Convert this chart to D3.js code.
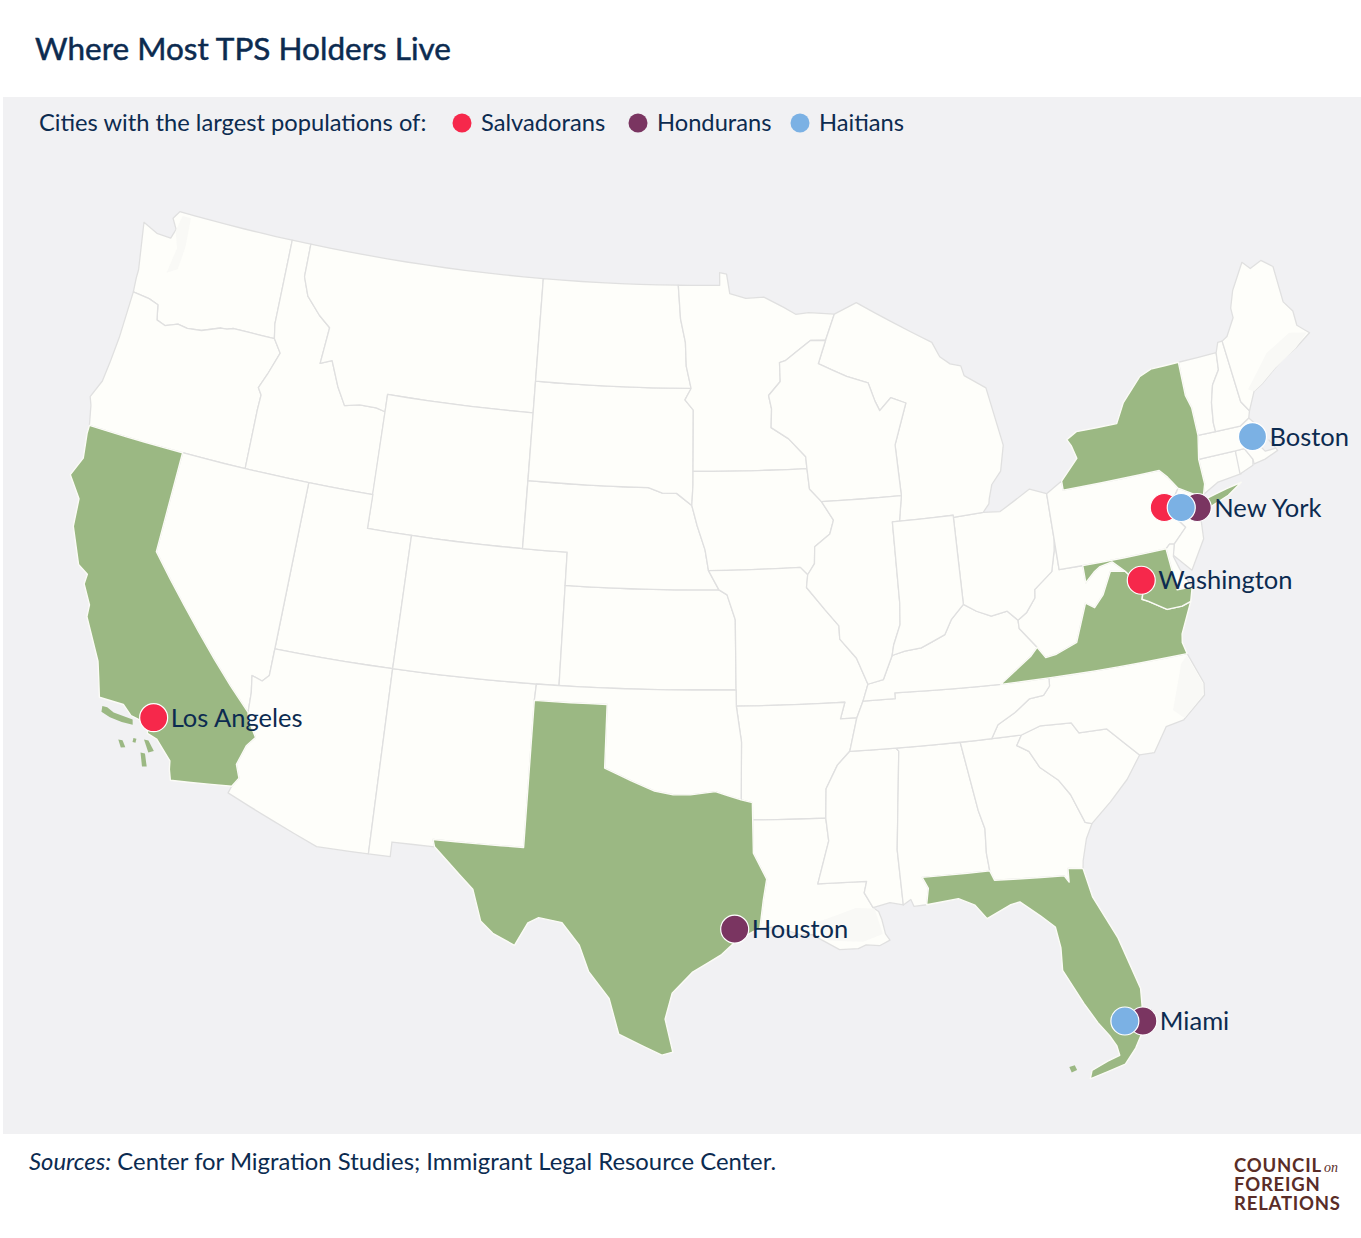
<!DOCTYPE html>
<html><head><meta charset="utf-8">
<script src="https://cdn.jsdelivr.net/npm/d3@7"></script>
<style>html,body{margin:0;padding:0;background:#fff}svg{display:block}text{font-family:Lato,sans-serif;fill:#0c2b50}</style>
</head><body><svg id="c" width="1361" height="1238"></svg>
<script>
const titleText="Where Most TPS Holders Live";
const legendLead="Cities with the largest populations of:";
const seriesNames=["Salvadorans","Hondurans","Haitians"];
const highlighted=["CA","TX","FL","NY","LI","VA","MD","CI1","CI2","CI3","CI4","CI5","KEY"];
const islands=["CI1","CI2","CI3","CI4","CI5","KEY"];
const cityNames=["Los Angeles","Washington","Boston","Houston","New York","Miami"];
const cityLon=[-118.3,-77.12,-70.88,-94.8,-74.75,-80.78];
const cityLat=[34.25,38.96,42.3,29.68,40.79,25.88];
const citySeries=[["Salvadorans"],["Salvadorans"],["Haitians"],["Hondurans"],["Salvadorans","Hondurans","Haitians"],["Hondurans","Haitians"]];
const WA=[[-123.05,49],[-117.03,49],[-117.04,46.42],[-116.92,45.99],[-118.98,46],[-119.3,45.93],[-119.6,45.92],[-120.5,45.7],[-121.2,45.65],[-121.7,45.7],[-122.3,45.55],[-122.75,45.65],[-122.9,46.1],[-123.4,46.2],[-124.25,46.26],[-124.3,46.7],[-124.3,46.95],[-124.7,48.38],[-123.9,48.17],[-123.15,48.15],[-123,48.45],[-123.3,48.75]];
const OR=[[-124.25,46.26],[-123.4,46.2],[-122.9,46.1],[-122.75,45.65],[-122.3,45.55],[-121.7,45.7],[-121.2,45.65],[-120.5,45.7],[-119.6,45.92],[-119.3,45.93],[-118.98,46],[-116.92,45.99],[-116.5,45.6],[-116.9,44.9],[-117.2,44.45],[-117,44.25],[-117.03,43.8],[-117.03,42],[-120,42],[-124.5,42],[-124.7,42.6],[-124.85,42.84],[-124.5,43.4],[-124.4,44],[-124.3,44.8]];
const ID=[[-117.03,49],[-116.05,49],[-116.05,48],[-115.7,47.45],[-114.95,46.95],[-114.35,46.65],[-114.5,45.55],[-113.95,45.7],[-113.45,44.95],[-113,44.45],[-112.3,44.55],[-111.5,44.55],[-111.05,44.48],[-111.05,42],[-114.04,42],[-117.03,42],[-117.03,43.8],[-117,44.25],[-117.2,44.45],[-116.9,44.9],[-116.5,45.6],[-116.92,45.99],[-117.04,46.42]];
const MT=[[-116.05,49],[-104.05,49],[-104.05,45],[-111.05,45],[-111.05,44.48],[-111.5,44.55],[-112.3,44.55],[-113,44.45],[-113.45,44.95],[-113.95,45.7],[-114.5,45.55],[-114.35,46.65],[-114.95,46.95],[-115.7,47.45],[-116.05,48]];
const WY=[[-111.05,45],[-104.05,45],[-104.05,41],[-111.05,41]];
const UT=[[-114.04,42],[-111.05,42],[-111.05,41],[-109.05,41],[-109.05,37],[-114.05,37]];
const NV=[[-120,42],[-114.04,42],[-114.05,36.2],[-114.3,36],[-114.75,36.1],[-114.65,35.6],[-114.63,35],[-120,39]];
const CA=[[-124.5,42],[-120,42],[-120,39],[-114.63,35],[-114.57,34.8],[-114.15,34.3],[-114.45,34],[-114.7,33.4],[-114.5,33],[-114.72,32.72],[-117.12,32.53],[-117.25,32.85],[-117.3,33.1],[-118,33.65],[-118.4,33.75],[-118.5,34.03],[-119.2,34.15],[-119.6,34.42],[-120.6,34.45],[-120.8,34.95],[-121.05,35.45],[-122.05,36.6],[-122.1,36.95],[-122.6,37.5],[-122.6,37.8],[-123.1,38],[-123.85,39],[-124,39.8],[-124.7,40.4],[-124.35,41],[-124.5,41.75]];
const CI1=[[-120.4,34.22],[-120.2,34.22],[-119.9,34.12],[-119.1,34.05],[-119.05,33.9],[-119.5,33.9],[-120,33.95],[-120.38,34.05]];
const CI2=[[-119.47,33.37],[-119.3,33.38],[-119.13,33.2],[-119.3,33.16]];
const CI3=[[-118.9,33.52],[-118.78,33.52],[-118.78,33.4],[-118.9,33.4]];
const CI4=[[-118.48,33.55],[-118.3,33.55],[-118,33.28],[-118.2,33.2]];
const CI5=[[-118.5,33.15],[-118.32,33.15],[-118.14,32.78],[-118.32,32.75]];
const AZ=[[-114.05,37],[-109.05,37],[-109.05,31.33],[-111.07,31.33],[-114.81,32.5],[-114.72,32.72],[-114.5,33],[-114.7,33.4],[-114.45,34],[-114.15,34.3],[-114.57,34.8],[-114.63,35],[-114.65,35.6],[-114.75,36.1],[-114.3,36],[-114.05,36.2]];
const NM=[[-109.05,37],[-103,37],[-103.04,36.5],[-103.06,32],[-106.62,32],[-106.53,31.78],[-108.2,31.78],[-108.2,31.33],[-109.05,31.33]];
const CO=[[-109.05,41],[-102.05,41],[-102.05,37],[-109.05,37]];
const KS=[[-102.05,40],[-95.3,40],[-94.95,39.85],[-94.61,39.1],[-94.62,37],[-102.05,37]];
const NE=[[-104.05,43],[-98.5,43],[-97.85,42.85],[-97.2,42.85],[-96.5,42.5],[-96.25,41.9],[-95.9,41.2],[-95.75,40.58],[-95.3,40],[-102.05,40],[-102.05,41],[-104.05,41]];
const SD=[[-104.05,45.94],[-96.56,45.94],[-96.85,45.6],[-96.45,45.3],[-96.45,43.5],[-96.45,43.1],[-96.5,42.5],[-97.2,42.85],[-97.85,42.85],[-98.5,43],[-104.05,43]];
const ND=[[-104.05,49],[-97.23,49],[-97.1,48],[-96.85,47.3],[-96.8,46.6],[-96.56,45.94],[-104.05,45.94]];
const MN=[[-97.23,49],[-95.15,49],[-95.15,49.38],[-94.8,49.33],[-94.65,48.75],[-93.85,48.6],[-92.95,48.62],[-92,48.3],[-91.4,48.07],[-90.75,48.1],[-89.49,48.01],[-90,47.25],[-90.74,47.27],[-92.01,46.71],[-92.29,46.66],[-92.29,46.1],[-92.87,45.7],[-92.75,45.3],[-92.8,44.75],[-92,44.4],[-91.25,43.85],[-91.22,43.5],[-96.45,43.5],[-96.45,45.3],[-96.85,45.6],[-96.56,45.94],[-96.8,46.6],[-96.85,47.3],[-97.1,48]];
const IA=[[-96.45,43.5],[-91.22,43.5],[-91.15,42.9],[-90.64,42.51],[-90.15,41.95],[-90.35,41.55],[-91.05,41.2],[-91.1,40.7],[-91.42,40.38],[-91.73,40.61],[-95.75,40.58],[-95.9,41.2],[-96.25,41.9],[-96.5,42.5],[-96.45,43.1]];
const MO=[[-95.75,40.58],[-91.73,40.61],[-91.42,40.38],[-91.5,40],[-90.75,39.3],[-90.2,38.8],[-90.2,38.4],[-89.55,37.8],[-89.15,37],[-89.4,36.5],[-89.7,36],[-90.37,36],[-90.15,36.5],[-94.62,36.5],[-94.62,37],[-94.61,39.1],[-94.95,39.85],[-95.3,40]];
const AR=[[-94.62,36.5],[-90.15,36.5],[-90.37,36],[-89.7,36],[-90.07,35],[-90.6,34.6],[-91.1,33.9],[-91.17,33],[-94.04,33.02],[-94.04,33.55],[-94.48,33.64],[-94.43,35.4]];
const OK=[[-103,37],[-94.62,37],[-94.62,36.5],[-94.43,35.4],[-94.48,33.64],[-95.5,33.9],[-96.5,33.8],[-97.2,33.8],[-97.95,33.9],[-98.9,34.2],[-99.5,34.4],[-100,34.56],[-100,36.5],[-103.04,36.5]];
const TX=[[-103.04,36.5],[-100,36.5],[-100,34.56],[-99.5,34.4],[-98.9,34.2],[-97.95,33.9],[-97.2,33.8],[-96.5,33.8],[-95.5,33.9],[-94.48,33.64],[-94.04,33.55],[-94.04,33.02],[-94.04,32],[-93.55,31.2],[-93.7,30.55],[-93.85,29.7],[-94.7,29.35],[-95.3,28.9],[-96.4,28.35],[-97.15,27.7],[-97.4,26.9],[-97.1,25.88],[-97.5,25.78],[-98.2,26.05],[-99.1,26.4],[-99.5,27.5],[-100.3,28.3],[-100.7,29.1],[-101.4,29.77],[-102.3,29.88],[-102.7,29.7],[-103.15,28.98],[-104,29.3],[-104.5,29.65],[-104.9,30.6],[-106,31.4],[-106.53,31.78],[-106.62,32],[-103.06,32]];
const LA=[[-94.04,33.02],[-91.17,33],[-91.1,32.3],[-91.6,31],[-89.73,31],[-89.85,30.65],[-89.55,30.18],[-89.35,30.05],[-89.25,29.8],[-89.15,29.35],[-89,29.15],[-89.4,29],[-89.9,29.05],[-90.2,28.95],[-90.9,28.95],[-91.3,29.15],[-91.9,29.45],[-92.3,29.45],[-93.2,29.72],[-93.85,29.7],[-93.7,30.55],[-93.55,31.2],[-94.04,32]];
const MS=[[-91.17,33],[-91.1,33.9],[-90.6,34.6],[-90.07,35],[-88.2,35],[-88.1,34.9],[-88.47,31.9],[-88.4,30.2],[-88.9,30.3],[-89.55,30.18],[-89.85,30.65],[-89.73,31],[-91.6,31],[-91.1,32.3]];
const AL=[[-88.2,35],[-85.6,35],[-85.18,32.87],[-85,32.3],[-85.05,31.55],[-85,31],[-87.6,31],[-87.4,30.65],[-87.52,30.15],[-88,30.13],[-88.1,30.35],[-88.4,30.2],[-88.47,31.9],[-88.1,34.9]];
const FL=[[-87.6,31],[-85,31],[-84.86,30.7],[-82.2,30.57],[-82.05,30.36],[-82.02,30.78],[-81.45,30.71],[-81.25,29.8],[-80.55,28.45],[-80.03,26.8],[-80.12,25.8],[-80.3,25.35],[-80.55,25],[-81,24.55],[-82.3,24.25],[-82.2,24.5],[-81.6,24.72],[-81.15,24.85],[-81.2,25.15],[-81.4,25.5],[-81.75,25.95],[-82.15,26.6],[-82.75,27.7],[-82.7,28.4],[-82.8,29.05],[-83.3,29.45],[-84,29.95],[-84.35,29.9],[-85.3,29.55],[-85.7,30],[-86.3,30.25],[-87.52,30.15],[-87.4,30.65]];
const KEY=[[-82.98,24.7],[-82.78,24.73],[-82.72,24.58],[-82.92,24.52]];
const GA=[[-85.6,35],[-83.11,35],[-83.35,34.7],[-82.9,34.48],[-82.55,33.95],[-81.9,33.5],[-81.5,33],[-81.1,32.1],[-80.85,32.03],[-81.15,31.6],[-81.4,30.95],[-81.45,30.71],[-82.02,30.78],[-82.05,30.36],[-82.2,30.57],[-84.86,30.7],[-85,31],[-85.05,31.55],[-85,32.3],[-85.18,32.87]];
const SC=[[-83.11,35],[-82.3,35.2],[-81.05,35.15],[-80.8,34.82],[-79.67,34.8],[-78.55,33.86],[-79.2,33.2],[-80,32.6],[-80.85,32.03],[-81.1,32.1],[-81.5,33],[-81.9,33.5],[-82.55,33.95],[-82.9,34.48],[-83.35,34.7]];
const NC=[[-84.32,35],[-83.11,35],[-82.3,35.2],[-81.05,35.15],[-80.8,34.82],[-79.67,34.8],[-78.55,33.86],[-77.95,33.85],[-77.3,34.55],[-76.55,34.65],[-75.53,35.25],[-75.45,35.6],[-75.87,36.55],[-81.68,36.59],[-81.7,36.35],[-82,36.1],[-82.6,36.05],[-83.25,35.7],[-84,35.4]];
const TN=[[-90.07,35],[-88.2,35],[-85.6,35],[-84.32,35],[-84,35.4],[-83.25,35.7],[-82.6,36.05],[-82,36.1],[-81.7,36.35],[-81.68,36.59],[-83.68,36.6],[-86.5,36.65],[-88.07,36.68],[-88.07,36.5],[-89.4,36.5],[-89.7,36]];
const KY=[[-89.4,36.5],[-88.07,36.5],[-88.07,36.68],[-86.5,36.65],[-83.68,36.6],[-83.1,36.9],[-82.3,37.3],[-81.97,37.54],[-82.6,38.17],[-82.6,38.42],[-83,38.73],[-83.7,38.65],[-84.3,38.85],[-84.82,39.1],[-85.4,38.7],[-85.75,38.27],[-86.3,38.1],[-86.8,37.95],[-87.5,37.9],[-88.05,37.8],[-88.5,37.1],[-89.15,37]];
const VA=[[-83.68,36.6],[-81.68,36.59],[-75.87,36.55],[-75.97,36.9],[-75.9,37.15],[-75.25,38.03],[-75.65,37.95],[-76.3,37.95],[-77,38.3],[-77.25,38.4],[-77.05,38.8],[-77.5,39.1],[-77.72,39.32],[-78.35,39.4],[-78.85,38.75],[-79.3,38.42],[-79.65,38.6],[-80.3,37.5],[-81.22,37.25],[-81.68,37.2],[-81.97,37.54],[-82.3,37.3],[-83.1,36.9]];
const MD=[[-79.48,39.72],[-75.79,39.72],[-75.7,38.46],[-75.05,38.45],[-75.25,38.03],[-75.65,37.95],[-76.3,37.95],[-77,38.3],[-77.25,38.4],[-77.05,38.8],[-77.5,39.1],[-77.72,39.32],[-78.2,39.67],[-78.75,39.6],[-79.05,39.47],[-79.48,39.2]];
const WV=[[-82.6,38.42],[-82.2,38.6],[-81.75,39],[-81.7,39.25],[-80.85,39.7],[-80.6,40.3],[-80.52,40.64],[-80.52,39.72],[-79.48,39.72],[-79.48,39.2],[-79.05,39.47],[-78.75,39.6],[-78.2,39.67],[-77.72,39.32],[-78.35,39.4],[-78.85,38.75],[-79.3,38.42],[-79.65,38.6],[-80.3,37.5],[-81.22,37.25],[-81.68,37.2],[-81.97,37.54],[-82.6,38.17]];
const OH=[[-84.8,41.7],[-83.45,41.73],[-82.7,41.68],[-81.25,42.2],[-80.52,41.98],[-80.52,40.64],[-80.6,40.3],[-80.85,39.7],[-81.7,39.25],[-81.75,39],[-82.2,38.6],[-82.6,38.42],[-83,38.73],[-83.7,38.65],[-84.3,38.85],[-84.82,39.1]];
const MI=[[-89.49,48.01],[-88.37,48.3],[-84.85,46.9],[-84.55,46.45],[-84.1,46.2],[-83.6,46.1],[-83.5,45.8],[-82.55,45.35],[-82.13,43.6],[-82.42,42.85],[-82.9,42.5],[-83.1,42.1],[-83.15,41.95],[-83.45,41.73],[-84.8,41.7],[-84.8,41.76],[-87.21,41.76],[-87.02,42.5],[-87.09,44],[-86.4,45.2],[-87.09,45.4],[-87.66,45.05],[-87.85,45.35],[-88.1,45.9],[-89.1,46.14],[-90.42,46.57],[-90,47.25]];
const WI=[[-92.01,46.71],[-90.74,47.27],[-90,47.25],[-90.42,46.57],[-89.1,46.14],[-88.1,45.9],[-87.85,45.35],[-87.66,45.05],[-87.09,45.4],[-86.4,45.2],[-87.09,44],[-87.02,42.5],[-90.64,42.51],[-91.15,42.9],[-91.22,43.5],[-91.25,43.85],[-92,44.4],[-92.8,44.75],[-92.75,45.3],[-92.87,45.7],[-92.29,46.1],[-92.29,46.66]];
const IL=[[-90.64,42.51],[-87.02,42.5],[-87.21,41.76],[-87.53,41.76],[-87.53,39.35],[-87.6,38.7],[-87.95,38.1],[-88.05,37.8],[-88.5,37.1],[-89.15,37],[-89.55,37.8],[-90.2,38.4],[-90.2,38.8],[-90.75,39.3],[-91.5,40],[-91.42,40.38],[-91.1,40.7],[-91.05,41.2],[-90.35,41.55],[-90.15,41.95]];
const IN=[[-87.53,41.76],[-87.21,41.76],[-84.8,41.76],[-84.82,39.1],[-85.4,38.7],[-85.75,38.27],[-86.3,38.1],[-86.8,37.95],[-87.5,37.9],[-88.05,37.8],[-87.95,38.1],[-87.6,38.7],[-87.53,39.35]];
const PA=[[-80.52,41.98],[-79.76,42.27],[-79.76,42],[-75.35,42],[-75.05,41.75],[-74.7,41.36],[-75.13,40.98],[-75.2,40.65],[-74.75,40.2],[-75.4,39.8],[-75.6,39.83],[-75.79,39.72],[-80.52,39.72]];
const NY=[[-79.76,42],[-75.35,42],[-75.05,41.75],[-74.7,41.36],[-73.9,41],[-74,40.7],[-73.66,41],[-73.5,41.3],[-73.5,42.05],[-73.27,42.75],[-73.25,43.6],[-73.4,44],[-73.35,45.01],[-74.7,45],[-75.3,44.85],[-76.3,44.2],[-76.8,43.63],[-78.7,43.63],[-79.2,43.45],[-79.05,43.25],[-78.9,42.85],[-79.76,42.27]];
const LI=[[-74,40.6],[-73.7,40.85],[-72.6,41],[-71.9,41.07],[-72.6,40.8],[-73.6,40.58]];
const NJ=[[-74.7,41.36],[-73.9,41],[-74,40.65],[-74.25,40.5],[-74,40.45],[-74.1,39.75],[-74.9,38.93],[-75.55,39.5],[-75.4,39.8],[-74.75,40.2],[-75.2,40.65],[-75.13,40.98]];
const DE=[[-75.79,39.72],[-75.6,39.83],[-75.4,39.8],[-75.55,39.45],[-75.4,39.05],[-75.05,38.45],[-75.7,38.46]];
const CT=[[-73.66,41],[-73.5,41.3],[-73.5,42.05],[-71.8,42.02],[-71.8,41.32],[-72.9,41.25]];
const RI=[[-71.8,42.02],[-71.38,42.02],[-71.13,41.65],[-71.2,41.47],[-71.86,41.32]];
const MA=[[-73.5,42.05],[-73.27,42.75],[-72.45,42.73],[-71.3,42.7],[-70.82,42.87],[-70.6,42.65],[-71,42.3],[-70.65,41.95],[-70.5,41.78],[-70,41.78],[-70.2,42.07],[-69.95,41.7],[-70.6,41.55],[-71.13,41.5],[-71.13,41.65],[-71.38,42.02],[-71.8,42.02]];
const VT=[[-73.35,45.01],[-71.5,45.01],[-71.6,44.5],[-72.05,44.1],[-72.3,43.6],[-72.45,43],[-72.45,42.73],[-73.27,42.75],[-73.25,43.6],[-73.4,44]];
const NH=[[-71.5,45.01],[-71.3,45.3],[-71.08,45.3],[-70.98,43.4],[-70.7,43.07],[-70.82,42.87],[-71.3,42.7],[-72.45,42.73],[-72.45,43],[-72.3,43.6],[-72.05,44.1],[-71.6,44.5]];
const ME=[[-71.08,45.3],[-70.8,45.4],[-70.3,45.9],[-70.3,46.2],[-70,46.7],[-69.22,47.45],[-68.9,47.2],[-68.3,47.35],[-67.8,47.07],[-67.78,45.95],[-67.45,45.6],[-67.45,45.15],[-66.97,44.82],[-67.8,44.5],[-68.5,44.3],[-69,44.1],[-69.8,43.75],[-70.25,43.6],[-70.7,43.07],[-70.98,43.4]];
const shapes={WA,OR,ID,MT,WY,UT,NV,AZ,NM,CO,KS,NE,SD,ND,MN,IA,MO,AR,OK,LA,MS,AL,GA,SC,NC,TN,KY,WV,OH,MI,WI,IL,IN,PA,NJ,DE,CT,RI,MA,VT,NH,ME,CA,CI1,CI2,CI3,CI4,CI5,TX,FL,KEY,NY,LI,VA,MD};
const puget=[[-122.85,48.9],[-122.4,48.9],[-122.3,48],[-122.4,47.3],[-122.9,47.1],[-122.7,47.9],[-123,48.4]];
const delta=[[-91.8,29.8],[-90.2,30.2],[-89.5,30.15],[-89.25,29.35],[-90,29.15],[-91.3,29.25]];
const maineCoast=[[-70.5,43.7],[-69.2,44.6],[-67.9,45],[-67.1,44.85],[-67.8,44.5],[-69,44.1],[-69.8,43.75],[-70.25,43.6]];
const sounds=[[-76.9,35],[-76.2,36.3],[-75.9,36.5],[-75.5,35.6],[-75.6,35.25],[-76.5,34.7]];
const paleWaters=[puget,delta,maineCoast,sounds];

const palette={Salvadorans:"#f6284b",Hondurans:"#7a3561",Haitians:"#7bb1e4"};
const svg=d3.select("#c");
svg.append("rect").attr("x",3).attr("y",97).attr("width",1358).attr("height",1037).attr("fill","#f1f1f3");

const conic=d3.geoConicEqualArea().parallels([29.5,45.5]).rotate([96,0]).center([0,37.5]).scale(1).translate([0,0]);
const xS=d3.scaleLinear().domain([-.3579,.3535]).range([88,1310]);
const yS=d3.scaleLinear().domain([-.2051,-.0641,.0061,.2038]).range([278,552,685,1053]);
const warpY=d3.scaleLinear().domain([-.3,-.1,-.03,.05]).range([160,50,50,80]).clamp(true);
const warpEast=d3.scaleLinear().domain([-.18,0,.2]).range([0,30,40]).clamp(true);
const warpWest=d3.scaleLinear().domain([-.25,-.1,0,.07]).range([-90,-50,55,66]).clamp(true);
const place=c=>{const [u,v]=conic(c);return [xS(u)+(u>0?u*warpEast(v):-u*u*warpWest(v)),yS(v)+u*u*warpY(v)];};
const dense=r=>{const o=[];r.forEach((p,i)=>{const q=r[(i+1)%r.length];const n=Math.max(1,Math.ceil(Math.abs(q[0]-p[0])));for(let k=0;k<n;k++)o.push([p[0]+(q[0]-p[0])*k/n,p[1]+(q[1]-p[1])*k/n]);});return o;};
const line=d3.line();
const pathOf=r=>line(dense(r).map(place))+"Z";

const g=svg.append("g");
Object.entries(shapes).forEach(([k,r])=>{
  const hi=highlighted.includes(k), isl=islands.includes(k);
  g.append("path").attr("d",pathOf(r)).attr("fill",hi?"#9bb883":"#fefefa")
   .attr("stroke",isl?"none":hi?"#fbfbf6":"#e0e0e0").attr("stroke-width",hi?1.4:1.3).attr("stroke-linejoin","round");
});
paleWaters.forEach(r=>g.append("path").attr("d",pathOf(r)).attr("fill","#f9f9f6"));

cityNames.forEach((name,i)=>{
  const [px,py]=place([cityLon[i],cityLat[i]]);
  const list=citySeries[i], n=list.length;
  const pos={Salvadorans:-17,Hondurans:n===3?16:18,Haitians:0};
  const drawn=n===1?[{s:list[0],dx:0}]:seriesNames.filter(s=>list.includes(s)).map(s=>({s,dx:pos[s]}));
  drawn.forEach(d=>svg.append("circle").attr("cx",px+d.dx).attr("cy",py).attr("r",14).attr("fill",palette[d.s]).attr("stroke","#fff").attr("stroke-width",1.2));
  const rightEdge=px+d3.max(drawn,d=>d.dx);
  svg.append("text").attr("x",rightEdge+17).attr("y",py+9).attr("font-size",25.5).text(name);
});

svg.append("text").attr("x",35).attr("y",60).attr("font-size",31.5).attr("stroke","#0c2b50").attr("stroke-width",.5).text(titleText);
svg.append("text").attr("x",39).attr("y",131).attr("font-size",23.7).text(legendLead);
const legendPos={Salvadorans:462,Hondurans:638,Haitians:800};
seriesNames.forEach(s=>{
  svg.append("circle").attr("cx",legendPos[s]).attr("cy",123).attr("r",9.5).attr("fill",palette[s]);
  svg.append("text").attr("x",legendPos[s]+19).attr("y",131).attr("font-size",23.7).text(s);
});
const src=svg.append("text").attr("x",29).attr("y",1170).attr("font-size",23.85);
src.append("tspan").attr("font-style","italic").text("Sources:");
src.append("tspan").text(" Center for Migration Studies; Immigrant Legal Resource Center.");
const logoColor="#5a2d28";
[["COUNCIL",1172],["FOREIGN",1191],["RELATIONS",1210]].forEach(([t,y])=>{
  svg.append("text").attr("x",1234).attr("y",y).attr("font-size",18.5).attr("font-weight",700).attr("letter-spacing",.8).style("fill",logoColor).text(t);
});
svg.append("text").attr("x",1324).attr("y",1172).attr("font-size",14).attr("font-style","italic").style("font-family","'Liberation Serif',serif").style("fill",logoColor).text("on");
</script></body></html>
